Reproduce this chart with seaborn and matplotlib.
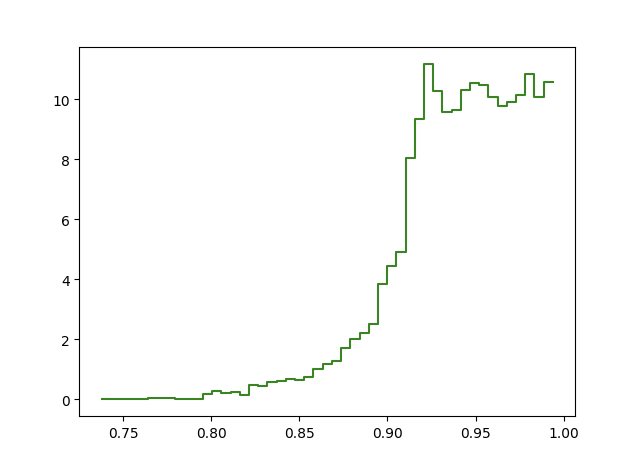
import matplotlib
matplotlib.use("Agg")
import matplotlib.pyplot as plt
import numpy as np
import pandas as pd
import seaborn as sns

# histogram: 49 equal bins between the data min and max, density values
x_min = 0.7379
x_max = 0.9938
n_bins = 49
density = [
    0.0, 0.0, 0.0, 0.0, 0.0, 0.04, 0.04, 0.04, 0.0, 0.0,
    0.0, 0.18, 0.28, 0.21, 0.24, 0.14, 0.47, 0.44, 0.57, 0.61,
    0.67, 0.64, 0.74, 1.02, 1.19, 1.28, 1.71, 2.03, 2.21, 2.50,
    3.84, 4.45, 4.91, 8.03, 9.35, 11.19, 10.28, 9.59, 9.65, 10.31,
    10.55, 10.49, 10.08, 9.79, 9.92, 10.16, 10.85, 10.08, 10.58,
]

edges = np.linspace(x_min, x_max, n_bins + 1)
df = pd.DataFrame({"x": (edges[:-1] + edges[1:]) / 2, "density": density})

fig, ax = plt.subplots(figsize=(6.38, 4.60), dpi=100)
fig.subplots_adjust(left=0.1243, right=0.9017, top=0.896, bottom=0.093)

sns.histplot(data=df, x="x", weights="density", bins=list(edges), element="step",
             fill=False, color="#3a8423", linewidth=1.5, ax=ax)

# reference keeps the normal margin below zero
for line in ax.lines:
    line.sticky_edges.x.clear()
    line.sticky_edges.y.clear()
ax.relim()
ax.autoscale_view()

ax.set_xlabel("")
ax.set_ylabel("")

plt.savefig("out.png")
